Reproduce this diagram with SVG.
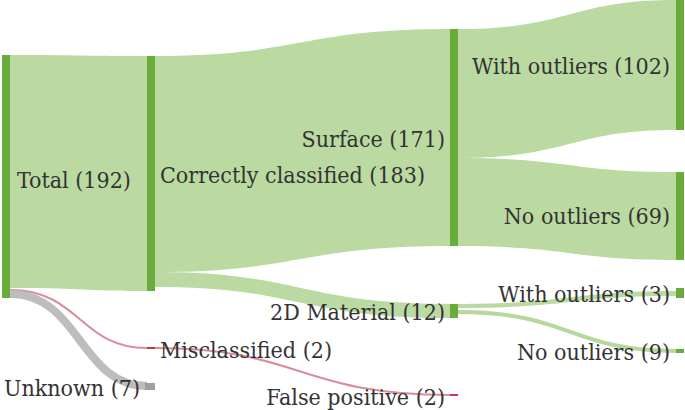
<svg xmlns="http://www.w3.org/2000/svg" width="685" height="410" viewBox="0 0 685 410">
<style>
.bar{fill:#6aac3c}
.lk{fill:#b6d89c;opacity:0.95}
text{font-family:"DejaVu Serif Condensed","DejaVu Serif",serif;font-stretch:condensed;font-size:23px;fill:#333}
.e{text-anchor:end}
</style>
<rect width="685" height="410" fill="#fff"/>
<g id="links">
<path class="lk" d="M10,55 C80,55 80,56 147,56 L147,291 C80,291 80,288 10,288 Z"/>
<path class="lk" d="M155,56 C300,56 300,29 450,29 L450,246 C300,246 300,272 155,272 Z"/>
<path class="lk" d="M155,272 C300,272 300,304 450,304 L450,318 C300,318 300,287 155,287 Z"/>
<path class="lk" d="M458,29 C570,29 570,0 676,0 L676,130 C570,130 570,158 458,158 Z"/>
<path class="lk" d="M458,158 C570,158 570,172 676,172 L676,260 C570,260 570,246 458,246 Z"/>
<path class="lk" d="M458,304 C570,304 570,291 676,291 L676,296 C570,296 570,308 458,308 Z"/>
<path d="M458,312 C570,312 570,351 676,351" fill="none" stroke="#b6d89c" stroke-width="4"/>
<path d="M10,290 C80,290 80,348 147,348" fill="none" stroke="#d98d9a" stroke-width="2"/>
<path d="M155,348 C300,348 300,395 450,395" fill="none" stroke="#d98d9a" stroke-width="2"/>
<path d="M10,294 C80,294 80,386 147,386" fill="none" stroke="#bdbdbd" stroke-width="8"/>
</g>
<g id="n-total"><rect class="bar" x="2" y="55" width="8" height="243"/><text x="17" y="188">Total (192)</text></g>
<g id="n-correct"><rect class="bar" x="147" y="56" width="8" height="235"/><text x="160" y="183">Correctly classified (183)</text></g>
<g id="n-unknown"><rect x="145" y="383" width="10" height="7" fill="#9e9e9e"/><text class="e" x="140" y="396">Unknown (7)</text></g>
<g id="n-mis"><rect x="147" y="347" width="8" height="2" fill="#c0394f"/><text x="160" y="358">Misclassified (2)</text></g>
<g id="n-surface"><rect class="bar" x="450" y="29" width="8" height="217"/><text class="e" x="445" y="147">Surface (171)</text></g>
<g id="n-2d"><rect class="bar" x="450" y="304" width="8" height="14"/><text class="e" x="445" y="320">2D Material (12)</text></g>
<g id="n-fp"><rect x="450" y="394" width="8" height="2" fill="#c0394f"/><text class="e" x="445" y="405">False positive (2)</text></g>
<g id="n-wo1"><rect class="bar" x="676" y="0" width="8" height="130"/><text class="e" x="670" y="74">With outliers (102)</text></g>
<g id="n-no1"><rect class="bar" x="676" y="172" width="8" height="88"/><text class="e" x="670" y="224">No outliers (69)</text></g>
<g id="n-wo2"><rect class="bar" x="676" y="288" width="8" height="10"/><text class="e" x="670" y="302">With outliers (3)</text></g>
<g id="n-no2"><rect class="bar" x="676" y="349" width="8" height="4"/><text class="e" x="670" y="360">No outliers (9)</text></g>
</svg>
